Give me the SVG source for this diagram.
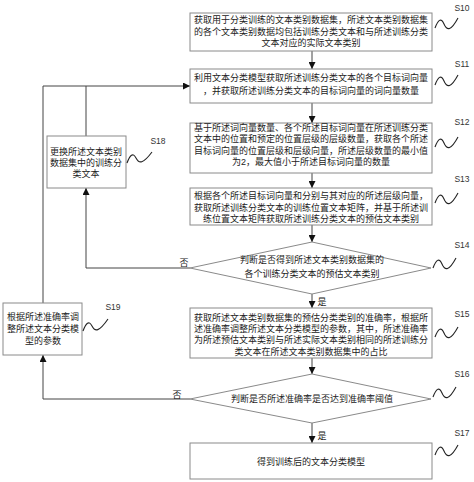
<svg xmlns="http://www.w3.org/2000/svg" width="474" height="482" viewBox="0 0 474 482">
<style>
.box{fill:#fff;stroke:#8a8a8a;stroke-width:1}
.t{font-family:"Liberation Sans","Noto Sans CJK SC",sans-serif;font-size:9px;fill:#222;text-anchor:middle}
.lbl{font-family:"Liberation Sans","Noto Sans",sans-serif;font-size:8.5px;fill:#333;text-anchor:middle}
.c{fill:none;stroke:#444;stroke-width:1}
.sq{fill:none;stroke:#222;stroke-width:1.1}
</style>
<defs>
<marker id="ah" viewBox="0 0 10 10" refX="10" refY="5" markerWidth="7" markerHeight="7" markerUnits="userSpaceOnUse" orient="auto">
<path d="M0,0 L10,5 L0,10 z" fill="#111"/>
</marker>
</defs>
<rect width="474" height="482" fill="#fff"/>
<g id="connectors">
<line class="c" x1="312" y1="51" x2="312" y2="69" marker-end="url(#ah)"/>
<line class="c" x1="312" y1="103" x2="312" y2="123" marker-end="url(#ah)"/>
<line class="c" x1="312" y1="173" x2="312" y2="188" marker-end="url(#ah)"/>
<line class="c" x1="312" y1="225" x2="312" y2="242" marker-end="url(#ah)"/>
<line class="c" x1="312" y1="294" x2="312" y2="308" marker-end="url(#ah)"/>
<line class="c" x1="312" y1="358" x2="312" y2="374" marker-end="url(#ah)"/>
<line class="c" x1="312" y1="423" x2="312" y2="443" marker-end="url(#ah)"/>
<polyline class="c" points="190,268 86,268 86,188" marker-end="url(#ah)"/>
<line class="c" x1="86" y1="136" x2="86" y2="86"/>
<polyline class="c" points="190,399 43,399 43,355" marker-end="url(#ah)"/>
<polyline class="c" points="43,303 43,86 190,86" marker-end="url(#ah)"/>
<text class="t" x="322" y="305">是</text>
<text class="t" x="322" y="439">是</text>
<text class="t" x="184" y="266">否</text>
<text class="t" x="177" y="398">否</text>
</g>
<g id="S10">
<rect class="box" x="190" y="13" width="242" height="38"/>
<text class="t" x="311" y="23">获取用于分类训练的文本类别数据集，所述文本类别数据集</text>
<text class="t" x="311" y="35">的各个文本类别数据均包括训练分类文本和与所述训练分类</text>
<text class="t" x="311" y="46">文本对应的实际文本类别</text>
<path class="sq" d="M435,28 C438,20 441,17 444,24 S451,31 458,18"/>
<text class="lbl" x="462" y="11">S10</text>
</g>
<g id="S11">
<rect class="box" x="190" y="69" width="242" height="34"/>
<text class="t" x="311" y="81">利用文本分类模型获取所述训练分类文本的各个目标词向量</text>
<text class="t" x="311" y="94">，并获取所述训练分类文本的目标词向量的词向量数量</text>
<path class="sq" d="M435,85 C438,77 441,74 444,81 S451,88 458,75"/>
<text class="lbl" x="462" y="67">S11</text>
</g>
<g id="S12">
<rect class="box" x="190" y="123" width="242" height="50"/>
<text class="t" x="311" y="131">基于所述词向量数量、各个所述目标词向量在所述训练分类</text>
<text class="t" x="311" y="142">文本中的位置和预定的位置层级的层级数量，获取各个所述</text>
<text class="t" x="311" y="154">目标词向量的位置层级和层级向量，所述层级数量的最小值</text>
<text class="t" x="311" y="165">为2，最大值小于所述目标词向量的数量</text>
<path class="sq" d="M435,147 C438,139 441,136 444,143 S451,150 458,137"/>
<text class="lbl" x="462" y="125">S12</text>
</g>
<g id="S13">
<rect class="box" x="190" y="188" width="242" height="37"/>
<text class="t" x="311" y="199">根据各个所述目标词向量和分别与其对应的所述层级向量，</text>
<text class="t" x="311" y="211">获取所述训练分类文本的训练位置文本矩阵，并基于所述训</text>
<text class="t" x="311" y="222">练位置文本矩阵获取所述训练分类文本的预估文本类别</text>
<path class="sq" d="M435,203 C438,195 441,192 444,199 S451,206 458,193"/>
<text class="lbl" x="462" y="182">S13</text>
</g>
<g id="S14">
<polygon class="box" points="312,242 431,268 312,294 190,268"/>
<text class="t" x="312" y="263">判断是否得到所述文本类别数据集的</text>
<text class="t" x="312" y="277">各个训练分类文本的预估文本类别</text>
<path class="sq" d="M433,268 C436,260 439,257 442,264 S449,271 456,258"/>
<text class="lbl" x="462" y="248">S14</text>
</g>
<g id="S15">
<rect class="box" x="190" y="308" width="242" height="50"/>
<text class="t" x="311" y="321">获取所述文本类别数据集的预估分类类别的准确率，根据所</text>
<text class="t" x="311" y="332">述准确率调整所述文本分类模型的参数，其中，所述准确率</text>
<text class="t" x="311" y="343">为所述预估文本类别与所述实际文本类别相同的所述训练分</text>
<text class="t" x="311" y="355">类文本在所述文本类别数据集中的占比</text>
<path class="sq" d="M435,337 C438,329 441,326 444,333 S451,340 458,327"/>
<text class="lbl" x="462" y="317">S15</text>
</g>
<g id="S16">
<polygon class="box" points="312,374 431,399 312,423 190,399"/>
<text class="t" x="312" y="402">判断是否所述准确率是否达到准确率阈值</text>
<path class="sq" d="M433,397 C436,389 439,386 442,393 S449,400 456,387"/>
<text class="lbl" x="462" y="377">S16</text>
</g>
<g id="S17">
<rect class="box" x="190" y="443" width="242" height="36"/>
<text class="t" x="311" y="465">得到训练后的文本分类模型</text>
<path class="sq" d="M435,455 C438,447 441,444 444,451 S451,458 458,445"/>
<text class="lbl" x="462" y="436">S17</text>
</g>
<g id="S18">
<rect class="box" x="47" y="136" width="79" height="52"/>
<text class="t" x="86" y="155">更换所述文本类别</text>
<text class="t" x="86" y="166">数据集中的训练分</text>
<text class="t" x="86" y="177">类文本</text>
<path class="sq" d="M127,163 C130,155 133,152 136,158 S143,164 152,152"/>
<text class="lbl" x="158" y="144">S18</text>
</g>
<g id="S19">
<rect class="box" x="3" y="303" width="79" height="52"/>
<text class="t" x="43" y="320">根据所述准确率调</text>
<text class="t" x="43" y="332">整所述文本分类模</text>
<text class="t" x="43" y="344">型的参数</text>
<path class="sq" d="M83,331 C86,323 89,320 92,326 S99,332 108,319"/>
<text class="lbl" x="113" y="310">S19</text>
</g>
</svg>
